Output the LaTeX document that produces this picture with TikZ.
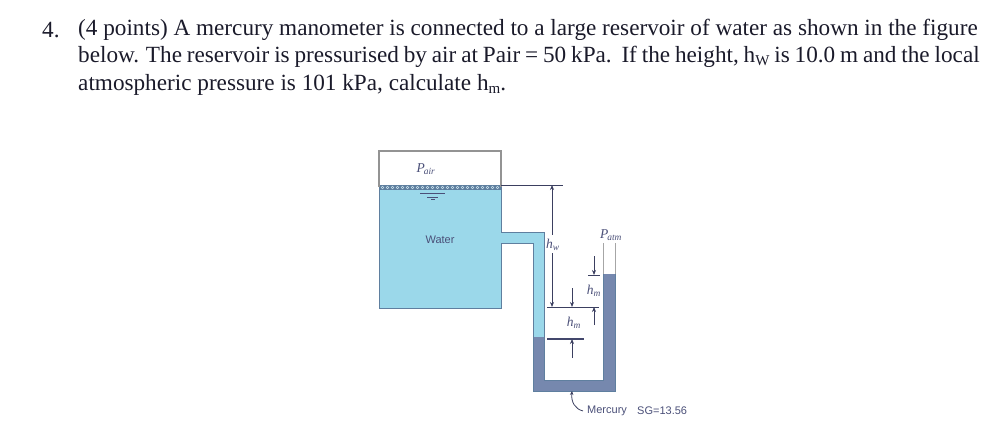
\documentclass[tikz,border=0pt]{standalone}
\usepackage{fontspec}
\setmainfont{Liberation Serif}
\setsansfont{Liberation Sans}
\usetikzlibrary{arrows.meta}
\definecolor{water}{HTML}{9BD8EA}
\definecolor{merc}{HTML}{7688AE}
\definecolor{wallc}{HTML}{5F7F9F}
\definecolor{labc}{HTML}{4A4F78}
\definecolor{txt}{HTML}{1A1A2A}
\tikzset{
  body/.style={anchor=west,inner sep=0pt,text=txt,font=\fontsize{23.2}{26}\selectfont},
  dim/.style={draw=labc!80!black,line width=.8pt},
  arr/.style={dim,-{Stealth[length=5pt,width=4pt]}},
  lab/.style={inner sep=0pt,text=labc,font=\sffamily\fontsize{11}{12}\selectfont},
  mathlab/.style={inner sep=0pt,text=labc,font=\fontsize{13.5}{14}\selectfont\itshape},
}
\newcommand{\lsub}[1]{\raisebox{-2.5pt}{\fontsize{15}{15}\selectfont #1}}
\begin{document}
\begin{tikzpicture}[x=1pt,y=-1pt]
\useasboundingbox (0,0) rectangle (1008,430);
% text
\node[body] (num) at (42,30) {4.};
\node[body] (l1) at (78,30) {(4 points) A mercury manometer is connected to a large reservoir of water as shown in the figure};
\node[body] (l2) at (78,57) {\spaceskip=.21em below. The reservoir is pressurised by air at Pair = 50 kPa.\ \ If the height, h\lsub{W} is 10.0 m and the local};
\node[body] (l3) at (78,85) {atmospheric pressure is 101 kPa, calculate h\lsub{m}.};
% fluids
\fill[water] (379,187) -- (501,187) -- (501,233) -- (544,233) -- (544,337) -- (533,337) -- (533,243) -- (501,243) -- (501,308) -- (379,308) -- cycle;
\fill[merc] (533,337) -- (544,337) -- (544,380) -- (603,380) -- (603,274) -- (615,274) -- (615,391) -- (533,391) -- cycle;
% free-surface band
\fill[wallc] (379,185) rectangle (501,190);
\foreach \i in {0,...,23} {\draw[white!60!water,line width=.4pt] (382.5+\i*5,187.5) circle (1.4pt);}
% walls
\draw[gray!85,line width=1.1pt] (379,187) -- (379,151) -- (501,151) -- (501,187);
\draw[wallc,line width=1pt] (379,187) -- (379,308) -- (501,308) -- (501,243) -- (533,243) -- (533,391) -- (615,391) -- (615,274);
\draw[wallc,line width=1pt] (501,187) -- (501,233) -- (544,233) -- (544,380) -- (603,380) -- (603,274);
\draw[gray!70,line width=.9pt] (603,274) -- (603,243) (615,274) -- (615,243);
% surface mark
\draw[labc,line width=1pt] (420,194) -- (445,194);
\draw[labc,line width=.6pt] (427,197) -- (438,197);
\draw[labc,line width=.5pt] (431,199.500) -- (435,199.500);
% dimension coordinates
\coordinate (refr) at (501,185);
\coordinate (refe) at (563,185);
\coordinate (ha) at (552,185);
\coordinate (hb) at (552,307);
\coordinate (topL) at (547,307);
\coordinate (topR) at (599,307);
\coordinate (lowL) at (547,339);
\coordinate (lowR) at (584,339);
\coordinate (shL) at (588,275);
\coordinate (shR) at (600,275);
\draw[dim] (refr) -- (refe);
\draw[dim] (topL) -- (topR);
\draw[labc!90!black,line width=1.4pt] (lowL) -- (lowR);
\draw[dim] (shL) -- (shR);
% labels
\node[mathlab] (pair) at (426,169) {P\textsubscript{\kern-1pt air}};
\node[lab] (wat) at (440,240) {Water};
\node[mathlab] (hw) at (553,245) {h\textsubscript{w}};
\node[mathlab] (hm1) at (594,291) {h\textsubscript{m}};
\node[mathlab] (hm2) at (574,323) {h\textsubscript{m}};
\node[mathlab] (patm) at (611,235) {P\textsubscript{\kern-1pt atm}};
\node[lab,anchor=west] (mer) at (587,411) {Mercury};
\node[lab,anchor=west] (sg) at (637,411) {SG=13.56};
% arrows
\coordinate (b1) at (552,253);
\coordinate (b2) at (552,235);
\draw[arr] (b1) -- (hb);
\draw[arr] (b2) -- (ha);
\coordinate (a1) at (594,256);
\coordinate (a2) at (594,325);
\coordinate (a3) at (572,288);
\coordinate (a4) at (572,358);
\draw[arr] (a1) -- (shR -| a1);
\draw[arr] (a2) -- (topR -| a2);
\draw[arr] (a3) -- (topR -| a3);
\draw[arr] (a4) -- (lowL -| a4);
\coordinate (mb) at (572,391);
\coordinate (me) at (583,411);
\draw[dim,{Stealth[length=4pt,width=3.500pt]}-] (mb) .. controls (571,402) and (575,409) .. (me);
\end{tikzpicture}
\end{document}
